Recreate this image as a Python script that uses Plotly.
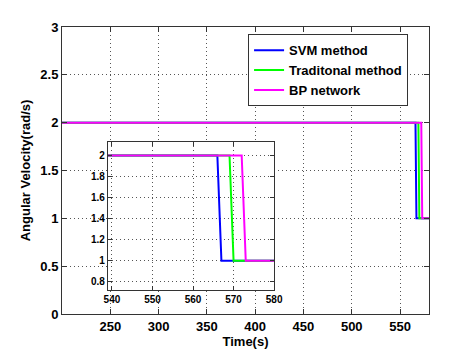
import plotly.graph_objects as go

# ---- data ----
svm_t = [200, 566, 567, 580]
svm_v = [2, 2, 1, 1]
trad_t = [200, 569, 570, 580]
trad_v = [2, 2, 1, 1]
bp_t = [200, 572, 573, 580]
bp_v = [2, 2, 1, 1]

series = [
    ("SVM method", svm_t, svm_v, "#0000ff"),
    ("Traditonal method", trad_t, trad_v, "#00ff00"),
    ("BP network", bp_t, bp_v, "#ff00ff"),
]

main_xticks = [250, 300, 350, 400, 450, 500, 550]
main_yticks = [0, 0.5, 1, 1.5, 2, 2.5, 3]
main_ylabels = ["0", "0.5", "1", "1.5", "2", "2.5", "3"]
inset_xticks = [540, 550, 560, 570, 580]
inset_yticks = [0.8, 1.0, 1.2, 1.4, 1.6, 1.8, 2.0]
inset_ylabels = ["0.8", "1", "1.2", "1.4", "1.6", "1.8", "2"]

FONT = "Liberation Sans, Arial, sans-serif"
AX = "#333333"
GRID = "#555555"

fig = go.Figure()

# main traces
for name, t, v, c in series:
    fig.add_trace(go.Scatter(x=t, y=v, mode="lines", name=name,
                             line=dict(color=c, width=2), xaxis="x", yaxis="y"))

# white background for inset (separate subplot so main grid is hidden)
fig.add_trace(go.Scatter(x=[0, 1, 1, 0, 0], y=[0, 0, 1, 1, 0], mode="lines",
                         fill="toself", fillcolor="white", line=dict(width=0),
                         showlegend=False, hoverinfo="skip", xaxis="x2", yaxis="y2"))

# inset traces
for name, t, v, c in series:
    fig.add_trace(go.Scatter(x=t, y=v, mode="lines", name=name, showlegend=False,
                             line=dict(color=c, width=2), xaxis="x3", yaxis="y3"))

common = dict(showline=True, linecolor=AX, linewidth=1, mirror="allticks",
              ticks="inside", tickcolor=AX, showgrid=True, gridcolor=GRID,
              griddash="1px,3px", gridwidth=1, zeroline=False)

ix0, ix1 = 0.125, 0.578
iy0, iy1 = 0.083, 0.60

fig.update_layout(
    width=466, height=348,
    margin=dict(l=54, r=45, t=19, b=39),
    paper_bgcolor="white", plot_bgcolor="white",
    font=dict(family=FONT, size=13, color="black", weight="bold"),
    xaxis=dict(range=[200, 580], tickvals=main_xticks, ticklen=5,
               title=dict(text="Time(s)", standoff=1,
                          font=dict(size=13, weight="bold")),
               tickfont=dict(size=13, weight="bold"), **common),
    yaxis=dict(range=[0, 3], tickvals=main_yticks, ticktext=main_ylabels, ticklen=5,
               title=dict(text="Angular Velocity(rad/s)", standoff=6,
                          font=dict(size=13, weight="bold")),
               tickfont=dict(size=13, weight="bold"), **common),
    xaxis2=dict(domain=[ix0, ix1], range=[0, 1], visible=False, anchor="y2"),
    yaxis2=dict(domain=[iy0, iy1], range=[0, 1], visible=False, anchor="x2"),
    xaxis3=dict(domain=[ix0, ix1], range=[539, 580], tickvals=inset_xticks, ticklen=4,
                anchor="y3", tickfont=dict(size=10, weight="bold"), **common),
    yaxis3=dict(domain=[iy0, iy1], range=[0.72, 2.13], tickvals=inset_yticks,
                ticktext=inset_ylabels, ticklen=4, anchor="x3",
                tickfont=dict(size=10, weight="bold"), **common),
    legend=dict(x=0.507, y=0.975, xanchor="left", yanchor="top",
                bgcolor="white", bordercolor=AX, borderwidth=1,
                entrywidth=133, entrywidthmode="pixels",
                font=dict(size=13, weight="bold"), tracegroupgap=0),
    showlegend=True,
)

fig.write_html("out.html")
